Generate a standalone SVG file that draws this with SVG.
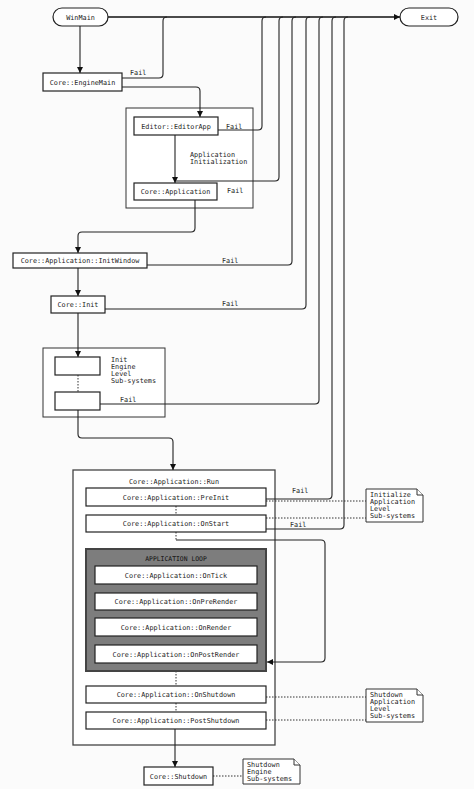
<svg xmlns="http://www.w3.org/2000/svg" width="474" height="789" viewBox="0 0 474 789">
<defs>
<marker id="arr" viewBox="0 0 10 10" refX="10" refY="5" markerWidth="6" markerHeight="6" markerUnits="userSpaceOnUse" orient="auto">
<path d="M0,0 L10,5 L0,10 Z" fill="#111"/>
</marker>
<style>
text{font-family:"DejaVu Sans Mono","Liberation Mono",monospace;font-size:6.8px;fill:#222}
.c{text-anchor:middle}
.box{fill:#fff;stroke:#222;stroke-width:1.2}
.grp{fill:#fff;stroke:#333;stroke-width:1}
.ln{fill:none;stroke:#222;stroke-width:1.1}
.main{fill:none;stroke:#111;stroke-width:1.6}
.dot{fill:none;stroke:#333;stroke-width:1;stroke-dasharray:1.5,1.5}
.note{fill:#fff;stroke:#333;stroke-width:1}
</style>
</defs>
<rect width="474" height="789" fill="#fbfbfb"/>

<g id="group-appinit"><rect class="grp" x="126" y="108" width="127" height="100"/>
<text x="190" y="157">Application</text><text x="190" y="164">Initialization</text></g>
<g id="group-engine"><rect class="grp" x="43" y="348" width="122" height="69"/>
<text x="111" y="362">Init</text><text x="111" y="369">Engine</text><text x="111" y="376">Level</text><text x="111" y="383">Sub-systems</text></g>
<g id="group-run"><rect class="grp" x="73" y="470" width="202" height="275" style="stroke:#444;stroke-width:1.3"/>
<text class="c" x="174" y="484">Core::Application::Run</text></g>

<g id="connectors">
<path class="main" d="M108,17 H400" marker-end="url(#arr)"/>
<path class="ln" d="M80,26 V73" marker-end="url(#arr)"/>
<path class="ln" d="M122,78 H159 Q163,78 163,74 V21 Q163,17 167,17"/>
<path class="ln" d="M122,87 H196 Q200,87 200,91 V117" marker-end="url(#arr)"/>
<path class="ln" d="M218,130 H258 Q262,130 262,126 V21 Q262,17 266,17"/>
<path class="ln" d="M175,135 V183" marker-end="url(#arr)"/>
<path class="ln" d="M176,181 H275 Q279,181 279,177 V21 Q279,17 283,17"/>
<path class="ln" d="M195,200 V228 Q195,232 191,232 H82 Q78,232 78,236 V253" marker-end="url(#arr)"/>
<path class="ln" d="M147,265 H288 Q292,265 292,261 V21 Q292,17 296,17"/>
<path class="ln" d="M78,268 V296" marker-end="url(#arr)"/>
<path class="ln" d="M105,309 H302 Q306,309 306,305 V21 Q306,17 310,17"/>
<path class="ln" d="M78,313 V357" marker-end="url(#arr)"/>
<path class="dot" d="M78,375 V392"/>
<path class="ln" d="M100,404 H315 Q319,404 319,400 V21 Q319,17 323,17"/>
<path class="ln" d="M78,410 V434 Q78,438 82,438 H169 Q173,438 173,442 V470" marker-end="url(#arr)"/>
<path class="ln" d="M266,499 H328 Q332,499 332,495 V21 Q332,17 336,17"/>
<path class="ln" d="M266,529 H340 Q344,529 344,525 V21 Q344,17 348,17"/>
<path class="dot" d="M266,501 H366"/>
<path class="dot" d="M266,518 H366"/>
<path class="dot" d="M176,506 V515"/>
<path class="dot" d="M176,532 V540"/>
<path class="ln" d="M176,540 H321 Q325,540 325,544 V658 Q325,662 321,662 H267" marker-end="url(#arr)"/>
<path class="dot" d="M176,671 V686"/>
<path class="dot" d="M176,703 V712"/>
<path class="dot" d="M266,697 H366"/>
<path class="dot" d="M266,720 H366"/>
<path class="ln" d="M175,729 V767" marker-end="url(#arr)"/>
<path class="dot" d="M213,776 H243"/>
<text x="130" y="75">Fail</text>
<text x="226" y="129">Fail</text>
<text x="227" y="193">Fail</text>
<text x="222" y="263">Fail</text>
<text x="222" y="306">Fail</text>
<text x="120" y="402">Fail</text>
<text x="292" y="493">Fail</text>
<text x="290" y="527">Fail</text>
</g>

<g id="winmain"><rect class="box" x="53" y="8" width="55" height="18" rx="9"/><text class="c" x="80.5" y="19.5">WinMain</text></g>
<g id="exit"><rect class="box" x="400" y="8" width="58" height="18" rx="9"/><text class="c" x="429" y="19.5">Exit</text></g>
<g id="enginemain"><rect class="box" x="43" y="73" width="79" height="18"/><text class="c" x="82.5" y="84.5">Core::EngineMain</text></g>
<g id="editorapp"><rect class="box" x="134" y="117" width="84" height="18"/><text class="c" x="176" y="128.5">Editor::EditorApp</text></g>
<g id="coreapp"><rect class="box" x="134" y="183" width="83" height="17"/><text class="c" x="175.5" y="194">Core::Application</text></g>
<g id="initwindow"><rect class="box" x="13" y="253" width="134" height="15"/><text class="c" x="80" y="263">Core::Application::InitWindow</text></g>
<g id="coreinit"><rect class="box" x="51" y="296" width="54" height="17"/><text class="c" x="78" y="307">Core::Init</text></g>
<g id="subsys1"><rect class="box" x="55" y="357" width="45" height="18"/></g>
<g id="subsys2"><rect class="box" x="55" y="392" width="45" height="18"/></g>
<g id="preinit"><rect class="box" x="86" y="488" width="180" height="18"/><text class="c" x="176" y="499.5">Core::Application::PreInit</text></g>
<g id="onstart"><rect class="box" x="86" y="515" width="180" height="17"/><text class="c" x="176" y="526">Core::Application::OnStart</text></g>
<g id="apploop">
<rect x="86" y="549" width="180" height="122" fill="#7d7d7d" stroke="#444" stroke-width="2"/>
<text class="c" x="176" y="561" style="font-size:6.4px;fill:#111">APPLICATION LOOP</text>
<rect class="box" x="95" y="566" width="162" height="18"/><text class="c" x="176" y="577.5">Core::Application::OnTick</text>
<rect class="box" x="95" y="593" width="162" height="17"/><text class="c" x="176" y="604">Core::Application::OnPreRender</text>
<rect class="box" x="95" y="618" width="162" height="18"/><text class="c" x="176" y="629.5">Core::Application::OnRender</text>
<rect class="box" x="95" y="645" width="162" height="18"/><text class="c" x="176" y="656.5">Core::Application::OnPostRender</text>
</g>
<g id="onshutdown"><rect class="box" x="86" y="686" width="180" height="17"/><text class="c" x="176" y="697">Core::Application::OnShutdown</text></g>
<g id="postshutdown"><rect class="box" x="86" y="712" width="180" height="17"/><text class="c" x="176" y="723">Core::Application::PostShutdown</text></g>
<g id="coreshutdown"><rect class="box" x="144" y="767" width="69" height="18"/><text class="c" x="178.5" y="778.5">Core::Shutdown</text></g>

<g id="note-init"><path class="note" d="M366,489 H417 L423,495 V522 H366 Z"/><path class="note" d="M417,489 V495 H423"/>
<text x="370" y="497">Initialize</text><text x="370" y="504">Application</text><text x="370" y="511">Level</text><text x="370" y="518">Sub-systems</text></g>
<g id="note-shutdown-app"><path class="note" d="M366,689 H417 L423,695 V722 H366 Z"/><path class="note" d="M417,689 V695 H423"/>
<text x="370" y="697">Shutdown</text><text x="370" y="704">Application</text><text x="370" y="711">Level</text><text x="370" y="718">Sub-systems</text></g>
<g id="note-shutdown-engine"><path class="note" d="M243,759 H294 L300,765 V784 H243 Z"/><path class="note" d="M294,759 V765 H300"/>
<text x="247" y="767">Shutdown</text><text x="247" y="774">Engine</text><text x="247" y="781">Sub-systems</text></g>
</svg>
